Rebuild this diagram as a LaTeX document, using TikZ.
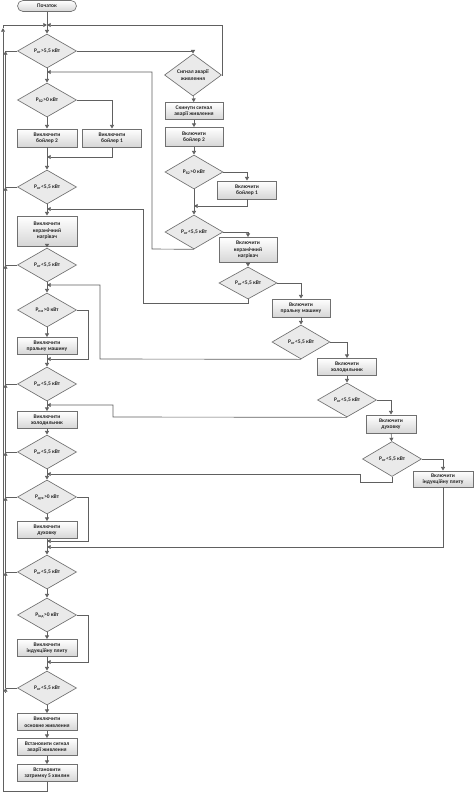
\documentclass[tikz,border=0pt]{standalone}
\usepackage{fontspec}
\newfontfamily\cf{Carlito}
\usetikzlibrary{shapes.geometric,arrows.meta}
\definecolor{lc}{HTML}{606060}
\definecolor{bc}{HTML}{707070}
\definecolor{bf}{HTML}{D6D6D6}
\definecolor{df}{HTML}{EAEAEA}
\definecolor{tc}{HTML}{262626}
\newcommand\myfs{\cf\bfseries\fontsize{5.5}{6.6}\selectfont}
\newcommand\Pn{P\textsubscript{нт}}
\tikzset{
  ln/.style={draw=lc, line width=0.65pt},
  arr/.style={ln, -{Triangle[width=4pt,length=3.5pt]}, shorten >=0.2pt},
  box/.style={draw=bc, line width=0.65pt, top color=white, bottom color=bf, minimum width=60pt, minimum height=17pt, inner sep=0pt, align=center, font=\myfs, text=tc},
  dia/.style={diamond, draw=bc, line width=0.65pt, fill=df, minimum width=59pt, minimum height=34pt, inner sep=0pt, align=center, font=\myfs, text=tc},
  term/.style={draw=bc, line width=0.65pt, rounded corners=5.5pt, top color=white, bottom color=bf, minimum width=59pt, minimum height=11pt, inner sep=0pt, font=\myfs, text=tc}
}
\begin{document}
\begin{tikzpicture}[x=1pt,y=-1pt]
\fill[white] (0,0) rectangle (474,793);
\useasboundingbox (0,0) rectangle (474,793);
% left column
\node[term] (start) at (47,6) {Початок};
\coordinate (m0) at (47,25);
\node[dia] (d1) at (47,51) {\Pn>5,5 кВт};
\coordinate (m1) at (47,72);
\node[dia] (d2) at (47,100) {P\textsubscript{б2}>0 кВт};
\node[box,minimum height=18pt] (bL2) at (47,138) {Виключити\\бойлер 2};
\node[box,minimum height=18pt,minimum width=59pt] (bL1) at (112,138) {Виключити\\бойлер 1};
\coordinate (m2) at (47,157);
\node[dia] (d3) at (47,187) {\Pn<5,5 кВт};
\coordinate (m3) at (47,209);
\node[box,minimum height=30pt] (bKer) at (47,231) {Виключити\\керамічний\\нагрівач};
\node[dia] (d4) at (47,265) {\Pn<5,5 кВт};
\coordinate (m4) at (47,285);
\node[dia] (d5) at (47,310) {P\textsubscript{пм}>0 кВт};
\node[box] (bPM) at (47,346) {Виключити\\пральну машину};
\coordinate (m5) at (47,359);
\node[dia] (d6) at (47,384) {\Pn<5,5 кВт};
\coordinate (m6) at (47,405);
\node[box] (bHol) at (47,420) {Виключити\\холодильник};
\node[dia] (d7) at (47,452) {\Pn<5,5 кВт};
\coordinate (m7) at (47,474);
\node[dia] (d8) at (47,497) {P\textsubscript{дух}>0 кВт};
\node[box] (bDuh) at (47,530) {Виключити\\духовку};
\coordinate (m8) at (47,541);
\coordinate (m8b) at (47,547);
\node[dia] (d9) at (47,572) {\Pn<5,5 кВт};
\node[dia] (d10) at (47,615) {P\textsubscript{інд}>0 кВт};
\node[box] (bInd) at (47,648) {Виключити\\індукційну плиту};
\coordinate (m10) at (47,662);
\node[dia] (d11) at (47,688) {\Pn<5,5 кВт};
\node[box] (bOsn) at (47,722) {Виключити\\основне живлення};
\node[box] (bSig) at (47,747) {Встановити сигнал\\аварії живлення};
\node[box] (bZat) at (47,773) {Встановити\\затримку 5 хвилин};
% right staircase
\node[dia,minimum width=57pt,minimum height=29pt] (dS) at (193,75) {Сигнал аварії\\живлення};
\node[box,minimum width=58pt] (bSk) at (194,111) {Скинути сигнал\\аварії живлення};
\node[box,minimum width=58pt,minimum height=19pt] (bVB2) at (194,137) {Включити\\бойлер 2};
\node[dia,minimum width=58pt] (dB) at (194,172) {P\textsubscript{б2}>0 кВт};
\node[box,minimum width=59pt,minimum height=18pt] (bVB1) at (247,190) {Включити\\бойлер 1};
\coordinate (mR1) at (194,206);
\node[dia,minimum width=58pt] (dR2) at (194,232) {\Pn<5,5 кВт};
\node[box,minimum width=58pt,minimum height=25pt] (bVKer) at (248,250) {Включити\\керамічний\\нагрівач};
\node[dia,minimum width=58pt,minimum height=32pt] (dR3) at (248,283) {\Pn<5,5 кВт};
\node[box,minimum width=58pt,minimum height=18pt] (bVPM) at (301,308) {Включити\\пральну машину};
\node[dia,minimum width=58pt] (dR4) at (301,342) {\Pn<5,5 кВт};
\node[box,minimum width=59pt] (bVHol) at (347,367) {Включити\\холодильник};
\node[dia] (dR5) at (347,400) {\Pn<5,5 кВт};
\node[box,minimum width=50pt,minimum height=18pt] (bVDuh) at (391,424) {Включити\\духовку};
\node[dia,minimum height=35pt] (dR6) at (392,459) {\Pn<5,5 кВт};
\node[box,minimum height=16pt] (bVInd) at (443,479) {Включити\\індукційну плиту};
% helper coordinates
\coordinate (cx) at (5.5,0);
\coordinate (bot) at (47,791);
\coordinate (botL) at (3,791);
\coordinate (upL) at (3,28);
\coordinate (topL) at (3,25);
\coordinate (rS) at (222,25);
\coordinate (k1) at (152,249);
\coordinate (k2) at (143,303);
\coordinate (k3) at (100,359);
\coordinate (k4) at (113,417);
\coordinate (k5) at (360,482);
% left main flow
\draw[arr] (start) -- (d1);
\draw[arr] (d1) -- (d2);
\draw[arr] (d2) -- (bL2);
\draw[arr] (d2.east) -| (bL1.north);
\draw[arr] (bL2) -- (d3);
\draw[arr] (bL1.south) |- (m2);
\draw[arr] (d3) -- (bKer);
\draw[arr] (bKer) -- (d4);
\draw[arr] (d4) -- (d5);
\draw[arr] (d5) -- (bPM);
\draw[arr] (d5.east) -- ++(11.5,0) |- (m5);
\draw[arr] (bPM) -- (d6);
\draw[arr] (d6) -- (bHol);
\draw[arr] (bHol) -- (d7);
\draw[arr] (d7) -- (d8);
\draw[arr] (d8) -- (bDuh);
\draw[arr] (d8.east) -- ++(11.5,0) |- (m8);
\draw[arr] (bDuh) -- (d9);
\draw[arr] (d9) -- (d10);
\draw[arr] (d10) -- (bInd);
\draw[arr] (d10.east) -- ++(11.5,0) |- (m10);
\draw[arr] (bInd) -- (d11);
\draw[arr] (d11) -- (bOsn);
\draw[arr] (bOsn) -- (bSig);
\draw[arr] (bSig) -- (bZat);
% outer return loop
\draw[arr] (bZat.south) -- (bot) -- (botL) -- (upL);
\draw[arr] (upL) -- (topL) -- (m0);
% inner collector of left exits
\draw[ln] (d11.west -| cx) -- (d1.west -| cx) -- (d1.west);
\foreach \n in {d3,d4,d6,d7,d8,d9,d11} \draw[ln] (\n.west) -- (\n.west -| cx);
\foreach \n in {d1,d3,d4,d6,d7,d8,d9,d11} \draw[arr] ([yshift=-4pt]\n.west -| cx) -- (\n.west -| cx);
% right flow
\draw[arr] (d1.east) -| (dS.north);
\draw[arr] (dS.east) -| (rS) -- (m0);
\draw[arr] (dS) -- (bSk);
\draw[arr] (bSk) -- (bVB2);
\draw[arr] (bVB2) -- (dB);
\draw[arr] (dB.east) -| (bVB1.north);
\draw[arr] (dB) -- (dR2);
\draw[arr] (bVB1.south) |- (mR1);
\draw[arr] (dR2.east) -| (bVKer.north);
\draw[arr] (bVKer) -- (dR3);
\draw[arr] (dR3.east) -| (bVPM.north);
\draw[arr] (bVPM) -- (dR4);
\draw[arr] (dR4.east) -| (bVHol.north);
\draw[arr] (bVHol) -- (dR5);
\draw[arr] (dR5.east) -| (bVDuh.north);
\draw[arr] (bVDuh) -- (dR6);
\draw[arr] (dR6.east) -| (bVInd.north);
\draw[arr] (bVInd.south) |- (m8b);
% returns from right staircase
\draw[arr] (dR2.south) -- (k1) |- (m1);
\draw[arr] (dR3.south) |- (k2) |- (m3);
\draw[arr] (dR4.south) -- (k3) |- (m4);
\draw[arr] (dR5.south) -- (k4) |- (m6);
\draw[arr] (dR6.south) |- (k5) |- (m7);
\end{tikzpicture}
\end{document}
